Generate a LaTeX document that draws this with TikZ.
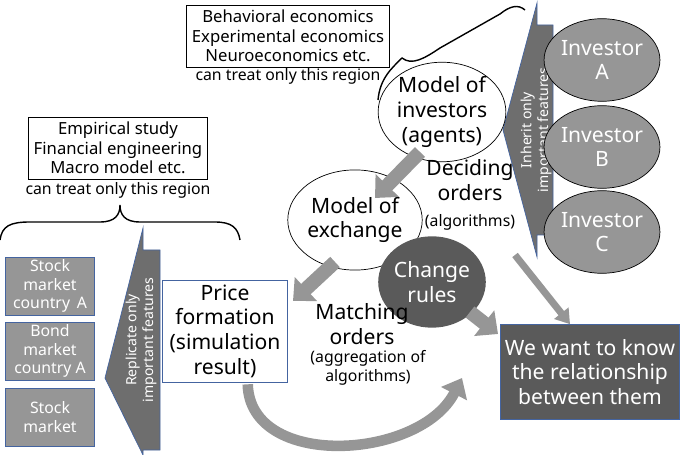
\documentclass[tikz,border=0pt]{standalone}
\usepackage{fontspec}
\setmainfont{Noto Sans}
\usetikzlibrary{calc, shapes, arrows.meta}
\definecolor{edgeblue}{RGB}{68,100,160}
\definecolor{midgray}{RGB}{150,150,150}
\definecolor{darkgray}{RGB}{90,90,90}
\definecolor{tabgray}{RGB}{110,110,110}

\begin{document}
\begin{tikzpicture}[x=0.02cm, y=-0.02cm]
	\tikzstyle{big}=[font=\fontsize{12}{14}\selectfont, align=center, inner sep=0pt]
	\tikzstyle{small}=[font=\fontsize{9}{10.5}\selectfont, align=center, inner sep=0pt]
	\tikzstyle{model}=[ellipse, draw, thin, fill=white, big]
	\tikzstyle{investor}=[ellipse, draw, thin, fill=midgray, text=white, big,
	minimum width=51pt, minimum height=47pt]
	\tikzstyle{market}=[rectangle, draw=edgeblue, thin, fill=midgray, text=white,
	font=\fontsize{9}{10.5}\selectfont, align=center, inner sep=0pt,
	minimum width=51pt, minimum height=33pt]
	\tikzstyle{textbox}=[rectangle, draw, thin, font=\fontsize{9.5}{11}\selectfont,
	align=center, inner sep=3pt]
	\tikzstyle{fat}=[line width=8pt, midgray, -{Triangle[width=18pt, length=10pt]}]
	\tikzstyle{tab}=[fill=tabgray, draw=edgeblue, thin]
	\tikzstyle{tabtext}=[font=\fontsize{8}{9.5}\selectfont, align=center,
	inner sep=0pt, text=white, rotate=90]

	\useasboundingbox (0,0) rectangle (685,455);

	% text boxes and braces
	\node[textbox] at (288,36) (upper) {Behavioral economics\\Experimental economics\\Neuroeconomics etc.};
	\node[small] at (288,76) (uppernote) {can treat only this region};
	\node[textbox] at (118,148) (lower) {Empirical study\\Financial engineering\\Macro model etc.};
	\node[small] at (118,190) (lowernote) {can treat only this region};
	\draw[thick] (378,100) .. controls (380,78) and (392,68) .. (402,58)
	.. controls (412,66) and (425,58) .. (440,48) -- (500,14)
	.. controls (510,6) and (518,4) .. (525,10);
	\draw[thick] (0,240) .. controls (2,226) and (10,222) .. (30,222) -- (100,222)
	.. controls (115,222) and (120,215) .. (120,205) .. controls (120,215) and (125,222) .. (140,222)
	-- (215,222) .. controls (232,222) and (238,228) .. (240,240);

	% dark tabs
	\draw[tab] (503,130) -- (537,3) -- (537,25) -- (553,25) -- (553,235) -- (537,235) -- (537,257) -- cycle;
	\node[tabtext] at (536,130) (inherit) {Inherit only\\important features};
	\draw[tab] (105,378) -- (143,228) -- (143,250) -- (160,250) -- (160,450) -- (143,450) -- (143,455) -- cycle;
	\node[tabtext] at (141,340) (replicate) {Replicate only\\important features};

	% nodes
	\node[investor] at (602,60) (invA) {Investor\\A};
	\node[investor] at (602,147) (invB) {Investor\\B};
	\node[investor] at (602,232) (invC) {Investor\\C};
	\node[model, minimum width=59pt, minimum height=51pt] at (442,112) (investors) {Model of\\investors\\(agents)};
	\node[model, minimum width=59pt, minimum height=57pt] at (355,220) (exchange) {Model of\\exchange};
	\node[ellipse, fill=darkgray, text=white, big, minimum width=54pt, minimum height=52pt] at (432,282) (rules) {Change\\rules};
	\node[rectangle, draw=edgeblue, thin, big, minimum width=71pt, minimum height=58pt] at (225,331) (price) {Price\\formation\\(simulation\\result)};
	\node[rectangle, draw=edgeblue, thin, fill=darkgray, text=white, big,
	minimum width=102pt, minimum height=54pt] at (590,372) (goal) {We want to know\\the relationship\\between them};
	\node[market] at (50,286) (stockA) {Stock\\market\\country\, A};
	\node[market] at (50,351) (bondA) {Bond\\market\\country A};
	\node[market] at (50,417) (stock) {Stock\\market};

	% labels
	\node[big] at (470,180) (deciding) {Deciding\\orders};
	\node[small] at (470,222) (algos) {(algorithms)};
	\node[big] at (362,324) (matching) {Matching\\orders};
	\node[small] at (368,368) (aggr) {(aggregation of\\algorithms)};

	% arrows
	\draw[fat] ($(investors)+(-22,40)$) -- ($(exchange)+(20,-22)$);
	\draw[fat] ($(exchange)+(-20,42)$) -- ($(price)+(68,-30)$);
	\draw[fat] ($(rules)+(38,30)$) -- ($(goal)+(-92,-38)$);
	\draw[line width=4pt, midgray, -{Triangle[width=10pt, length=8pt]}]
	(515,255) -- ($(goal.north west)+(70,0)$);
	\draw[line width=6pt, midgray, -{Triangle[width=16pt, length=10pt]}]
	($(price.south east)+(-40,2)$) .. controls (250,470) and (420,460) .. (462,378);
\end{tikzpicture}
\end{document}
